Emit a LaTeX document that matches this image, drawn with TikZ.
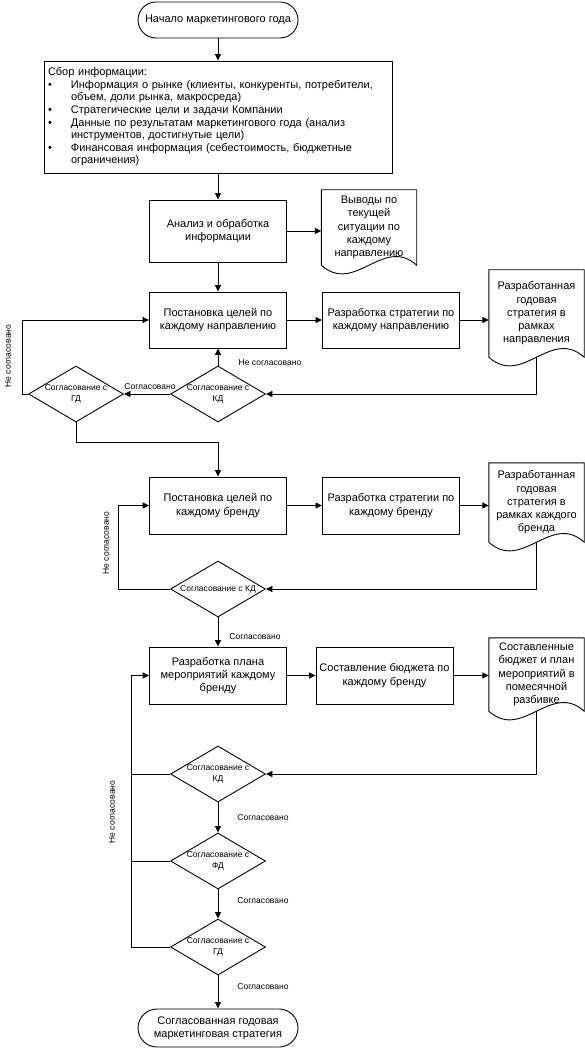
\documentclass[tikz,border=0pt]{standalone}
\usepackage{fontspec}
\setmainfont{Liberation Sans}
\usetikzlibrary{arrows.meta,shapes.geometric,calc}
\newcommand\docdraw[1]{\draw[line] (#1.north east) -- (#1.north west) -- (#1.south west) .. controls ($(#1.south west)!0.35!(#1.south east)+(0,30)$) and ($(#1.south west)!0.65!(#1.south east)+(0,-30)$) .. (#1.south east) -- cycle;}
\newcommand\bul{\makebox[23pt][l]{•}}
\begin{document}
\begin{tikzpicture}[x=1pt,y=-1pt,
  line/.style={line width=0.9pt, draw=black},
  arr/.style={line, -{Triangle[length=6.5pt,width=6pt]}},
  txt/.style={font=\fontsize{11}{13.3}\selectfont},
  box/.style={line, txt, rectangle, minimum width=137pt, minimum height=57pt, align=center, inner sep=1pt},
  term/.style={line, txt, rectangle, minimum width=160pt, align=center, inner sep=1pt},
  doc/.style={txt, rectangle, minimum width=95pt, align=center, inner sep=1pt},
  dec/.style={line, diamond, aspect=1.7, minimum width=95pt, minimum height=56pt, inner sep=0pt, align=center, font=\fontsize{8.5}{10.5}\selectfont},
  lbl/.style={font=\fontsize{8.5}{10}\selectfont, inner sep=0pt},
]
\useasboundingbox (0,0) rectangle (585,1048);
\fill[white] (0,0) rectangle (585,1048);

% nodes
\node[term, minimum height=36pt, rounded corners=18pt] (start) at (218,20) {Начало маркетингового года};
\node[line, rectangle, minimum width=348pt, minimum height=112pt, text width=340pt, align=left, inner xsep=3pt,
      font=\fontsize{11}{12.6}\selectfont] (info) at (218,117)
 {Сбор информации:\\
  \bul Информация о рынке (клиенты, конкуренты, потребители,\\
  \hspace*{23pt}объем, доли рынка, макросреда)\\
  \bul Стратегические цели и задачи Компании\\
  \bul Данные по результатам маркетингового года (анализ\\
  \hspace*{23pt}инструментов, достигнутые цели)\\
  \bul Финансовая информация (себестоимость, бюджетные\\
  \hspace*{23pt}ограничения)};
\node[box, minimum height=62pt] (analysis) at (218,231) {Анализ и обработка\\информации};
\node[doc, minimum height=75pt] (out1) at (369,227.5) {Выводы по\\текущей\\ситуации по\\каждому\\направлению};

\node[box, minimum height=56pt] (goals1) at (218,320) {Постановка целей по\\каждому направлению};
\node[box, minimum height=56pt] (strat1) at (391,320) {Разработка стратегии по\\каждому направлению};
\node[doc, minimum height=87pt] (doc1) at (536.5,313.5) {Разработанная\\годовая\\стратегия в\\рамках\\направления};
\node[dec] (kd1) at (218,394) {Согласование с\\КД};
\node[dec] (gd1) at (76,394) {Согласование с\\ГД};

\node[box] (goals2) at (218,505.5) {Постановка целей по\\каждому бренду};
\node[box] (strat2) at (391,505.5) {Разработка стратегии по\\каждому бренду};
\node[doc, minimum height=79pt] (doc2) at (536.5,502.5) {Разработанная\\годовая\\стратегия в\\рамках каждого\\бренда};
\node[dec] (kd2) at (218,589) {Согласование с КД};

\node[box] (plan) at (218,675.5) {Разработка плана\\мероприятий каждому\\бренду};
\node[box] (budget) at (384.5,675.5) {Составление бюджета по\\каждому бренду};
\node[doc, minimum height=73pt] (doc3) at (536.5,674.5) {Составленные\\бюджет и план\\мероприятий в\\помесячной\\разбивке};
\node[dec] (kd3) at (218,774) {Согласование с\\КД};
\node[dec] (fd) at (218,861) {Согласование с\\ФД};
\node[dec] (gd3) at (218,947) {Согласование с\\ГД};
\node[term, minimum height=38pt, rounded corners=19pt] (end) at (218,1028) {Согласованная годовая\\маркетинговая стратегия};

\docdraw{out1}
\docdraw{doc1}
\docdraw{doc2}
\docdraw{doc3}

% labels
\node[lbl] (s1) at (150,387) {Согласовано};
\node[lbl] (n1) at (270,363) {Не согласовано};
\node[lbl, rotate=90] (n2) at (8,356) {Не согласовано};
\node[lbl, rotate=90] (n3) at (106,543) {Не согласовано};
\node[lbl] (s2) at (255,637) {Согласовано};
\node[lbl, rotate=90] (n4) at (112,812) {Не согласовано};
\node[lbl] (s3) at (263,818) {Согласовано};
\node[lbl] (s4) at (263,901) {Согласовано};
\node[lbl] (s5) at (263,987) {Согласовано};

% helper coordinates
\coordinate (c1) at (22,394);
\coordinate (c2) at (218,442);
\coordinate (c3) at (118,589);
\coordinate (c4) at (131,947);

% connectors
\draw[arr] (start) -- (info);
\draw[arr] (info) -- (analysis);
\draw[arr] (analysis.east) -- (analysis.east -| out1.west);
\draw[arr] (analysis) -- (goals1);
\draw[arr] (goals1) -- (strat1);
\draw[arr] (strat1.east) -- (strat1.east -| doc1.west);
\draw[arr] (doc1.south) |- (kd1.east);
\draw[arr] (kd1.north) -- (goals1.south);
\draw[arr] (kd1.west) -- (gd1.east);
\draw[arr] (gd1.west) -- (c1) |- (goals1.west);
\draw[arr] (gd1.south) |- (c2) -- (goals2.north);

\draw[arr] (goals2) -- (strat2);
\draw[arr] (strat2.east) -- (strat2.east -| doc2.west);
\draw[arr] (doc2.south) |- (kd2.east);
\draw[arr] (kd2.west) -- (c3) |- (goals2.west);
\draw[arr] (kd2.south) -- (plan.north);

\draw[arr] (plan) -- (budget);
\draw[arr] (budget.east) -- (budget.east -| doc3.west);
\draw[arr] (doc3.south) |- (kd3.east);
\draw[line] (kd3.west) -- (kd3.west -| c4);
\draw[line] (fd.west) -- (fd.west -| c4);
\draw[arr] (gd3.west) -- (c4) |- (plan.west);
\draw[arr] (kd3.south) -- (fd.north);
\draw[arr] (fd.south) -- (gd3.north);
\draw[arr] (gd3.south) -- (end.north);
\end{tikzpicture}
\end{document}
